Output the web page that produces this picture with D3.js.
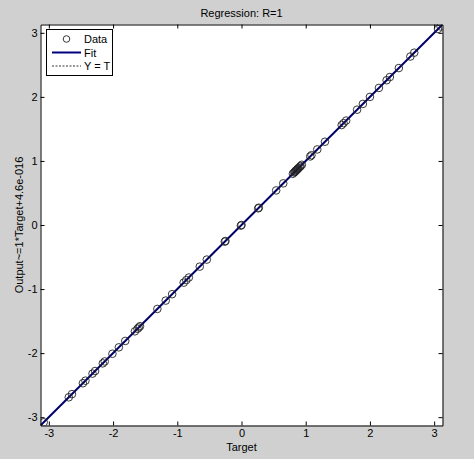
<!DOCTYPE html>
<html><head><meta charset="utf-8">
<script src="https://cdn.jsdelivr.net/npm/d3@7"></script>
<style>body{margin:0;background:#d0d0d0;}svg{display:block;font-family:"Liberation Sans",Arial,sans-serif;}</style>
</head><body>
<svg id="c" width="474" height="459"></svg>
<script>
const targets = [-3.08,-2.69,-2.64,-2.47,-2.43,-2.32,-2.28,-2.16,-2.13,-2.01,-1.91,-1.81,-1.66,-1.62,-1.60,-1.58,
  -1.31,-1.18,-1.08,-0.90,-0.86,-0.82,-0.65,-0.54,-0.26,-0.25,-0.01,0.0,0.26,0.27,0.54,0.65,
  0.80,0.82,0.83,0.84,0.85,0.86,0.87,0.88,0.89,0.91,0.92,0.94,1.07,1.09,1.18,1.30,1.56,1.59,1.63,
  1.80,1.89,2.00,2.14,2.26,2.31,2.45,2.63,2.69,3.06,3.10];
const outputs = targets.slice();
const tickVals = [-3,-2,-1,0,1,2,3];
const domain = [-3.13, 3.13];
const fitSlope = 1, fitIntercept = 4.6e-16;
const titleText = "Regression: R=1";
const xLabel = "Target";
const yLabel = "Output~=1*Target+4.6e-016";
const legendItems = ["Data","Fit","Y = T"];

const svg = d3.select("#c");
const L=40.5, R=442.5, T=24.5, B=425.5;
const x = d3.scaleLinear().domain(domain).range([L,R]);
const y = d3.scaleLinear().domain(domain).range([B,T]);

svg.append("rect").attr("x",L).attr("y",T).attr("width",R-L).attr("height",B-T).attr("fill","#fff");

const clip = svg.append("defs").append("clipPath").attr("id","cp");
clip.append("rect").attr("x",L).attr("y",T).attr("width",R-L).attr("height",B-T);
const g = svg.append("g").attr("clip-path","url(#cp)");

g.append("line").attr("x1",x(domain[0])).attr("y1",y(fitSlope*domain[0]+fitIntercept))
 .attr("x2",x(domain[1])).attr("y2",y(fitSlope*domain[1]+fitIntercept))
 .attr("stroke","#000080").attr("stroke-width",2);
g.append("line").attr("x1",x(domain[0])).attr("y1",y(domain[0]))
 .attr("x2",x(domain[1])).attr("y2",y(domain[1]))
 .attr("stroke","#000").attr("stroke-width",0.8).attr("stroke-dasharray","2,2");
g.selectAll("circle.d").data(targets).enter().append("circle")
 .attr("cx",d=>x(d)).attr("cy",(d,i)=>y(outputs[i])).attr("r",3.8)
 .attr("fill","none").attr("stroke","#222").attr("stroke-width",0.9);

const tl=4, fmt = d => String(d);
const axB = d3.axisBottom(x).tickValues(tickVals).tickSizeInner(-tl).tickSizeOuter(0).tickPadding(4).tickFormat(fmt);
const axT = d3.axisTop(x).tickValues(tickVals).tickSizeInner(-tl).tickSizeOuter(0).tickFormat("");
const axLf = d3.axisLeft(y).tickValues(tickVals).tickSizeInner(-tl).tickSizeOuter(0).tickPadding(3).tickFormat(fmt);
const axRt = d3.axisRight(y).tickValues(tickVals).tickSizeInner(-tl).tickSizeOuter(0).tickFormat("");
[[axB,`translate(0,${B})`],[axT,`translate(0,${T})`],[axLf,`translate(${L},0)`],[axRt,`translate(${R},0)`]].forEach(([a,t])=>{
  const gg = svg.append("g").attr("transform",t).call(a);
  gg.select(".domain").attr("stroke","#000");
  gg.selectAll(".tick line").attr("stroke","#000");
  gg.selectAll("text").attr("fill","#000").attr("font-size",11).attr("font-family","Liberation Sans, Arial, sans-serif");
});

svg.append("text").attr("x",(L+R)/2).attr("y",17).attr("text-anchor","middle").attr("font-size",11).text(titleText);
svg.append("text").attr("x",(L+R)/2).attr("y",451).attr("text-anchor","middle").attr("font-size",11).text(xLabel);
svg.append("text").attr("transform",`translate(23,${(T+B)/2}) rotate(-90)`).attr("text-anchor","middle").attr("font-size",11).text(yLabel);

const lg = svg.append("g");
lg.append("rect").attr("x",46.5).attr("y",29.5).attr("width",66).attr("height",46).attr("fill","#fff").attr("stroke","#000").attr("stroke-width",1);
const ly = [39,52.5,66];
lg.append("circle").attr("cx",66.5).attr("cy",ly[0]).attr("r",3.3).attr("fill","none").attr("stroke","#222").attr("stroke-width",0.9);
lg.append("line").attr("x1",52).attr("x2",81).attr("y1",ly[1]).attr("y2",ly[1]).attr("stroke","#000080").attr("stroke-width",2);
lg.append("line").attr("x1",52).attr("x2",81).attr("y1",ly[2]).attr("y2",ly[2]).attr("stroke","#000").attr("stroke-width",0.8).attr("stroke-dasharray","2,1.5");
legendItems.forEach((t,i)=>{
  lg.append("text").attr("x",84).attr("y",ly[i]+4).attr("font-size",11).text(t);
});
</script>
</body></html>
